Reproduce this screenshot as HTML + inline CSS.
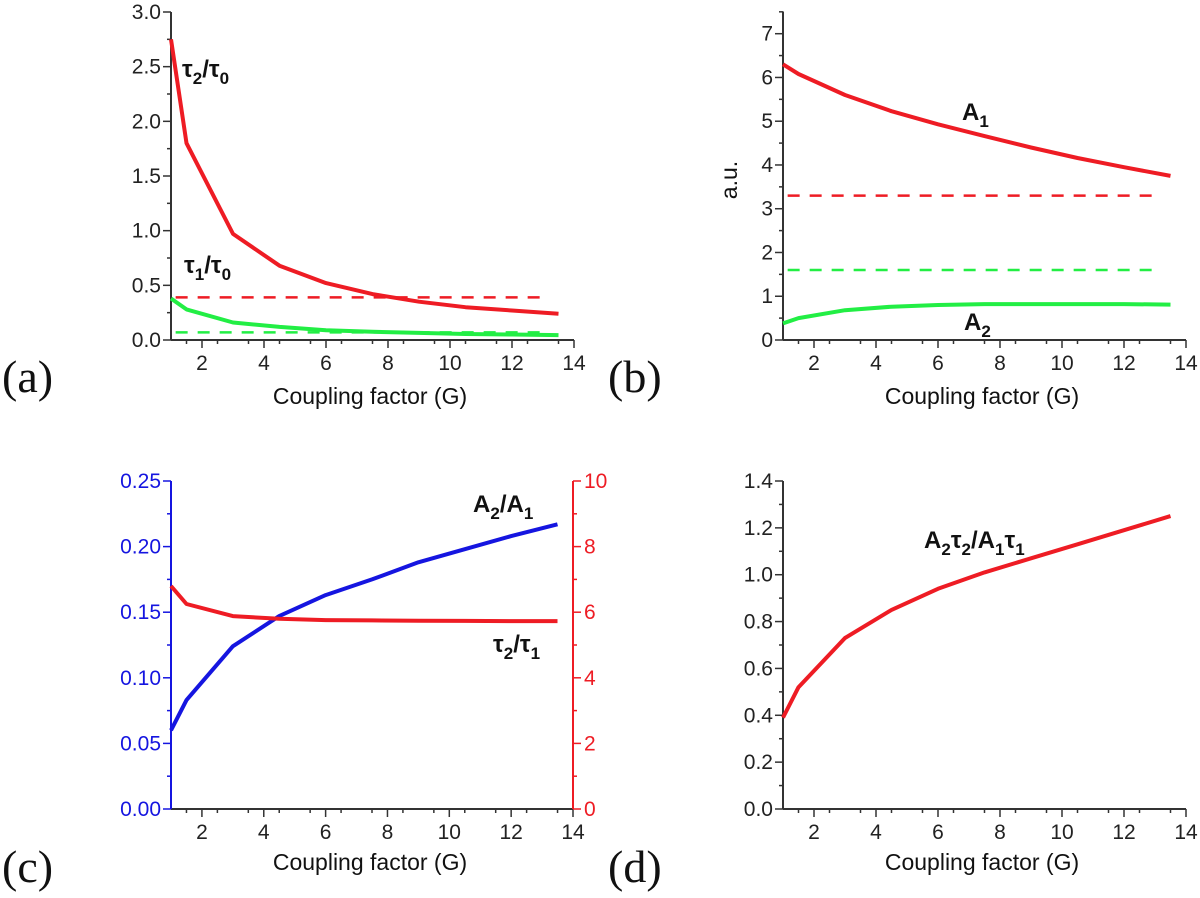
<!DOCTYPE html>
<html><head><meta charset="utf-8"><style>
body{margin:0;background:#fff}
svg{display:block;font-family:"Liberation Sans",sans-serif}
.tk{font-size:21px;fill:#222}
.lbl{font-size:23px;fill:#111}
.pan{font-family:"Liberation Serif",serif;font-size:46px;fill:#111}
.ann{font-size:24px;font-weight:bold;fill:#111}
</style></head><body>
<svg id="c" width="1200" height="898" viewBox="0 0 1200 898">
<text class="pan" x="2" y="392">(a)</text>
<text class="pan" x="608" y="392">(b)</text>
<text class="pan" x="2" y="882">(c)</text>
<text class="pan" x="608" y="882">(d)</text>
<text class="lbl" x="370" y="404" text-anchor="middle">Coupling factor (G)</text>
<text class="lbl" x="982" y="404" text-anchor="middle">Coupling factor (G)</text>
<text class="lbl" x="370" y="870" text-anchor="middle">Coupling factor (G)</text>
<text class="lbl" x="982" y="870" text-anchor="middle">Coupling factor (G)</text>
<text class="lbl" transform="translate(737,180) rotate(-90)" text-anchor="middle">a.u.</text>
<text class="ann" x="182" y="77">τ<tspan font-size="17" dy="7">2</tspan><tspan dy="-7">/τ</tspan><tspan font-size="17" dy="7">0</tspan></text>
<text class="ann" x="184" y="273">τ<tspan font-size="17" dy="7">1</tspan><tspan dy="-7">/τ</tspan><tspan font-size="17" dy="7">0</tspan></text>
<text class="ann" x="962" y="120">A<tspan font-size="17" dy="7">1</tspan></text>
<text class="ann" x="964" y="330">A<tspan font-size="17" dy="7">2</tspan></text>
<text class="ann" x="473" y="512">A<tspan font-size="17" dy="7">2</tspan><tspan dy="-7">/A</tspan><tspan font-size="17" dy="7">1</tspan></text>
<text class="ann" x="493" y="652">τ<tspan font-size="17" dy="7">2</tspan><tspan dy="-7">/τ</tspan><tspan font-size="17" dy="7">1</tspan></text>
<text class="ann" x="924" y="548">A<tspan font-size="17" dy="7">2</tspan><tspan dy="-7">τ</tspan><tspan font-size="17" dy="7">2</tspan><tspan dy="-7">/A</tspan><tspan font-size="17" dy="7">1</tspan><tspan dy="-7">τ</tspan><tspan font-size="17" dy="7">1</tspan></text>
</svg>
<script>
const G = [1,1.5,3,4.5,6,7.5,9,10.5,12,13.5];
const xTicks = [2,4,6,8,10,12,14];
const tau2tau0 = [2.75,1.8,0.97,0.68,0.52,0.42,0.35,0.3,0.27,0.24];
const tau1tau0 = [0.38,0.28,0.16,0.12,0.09,0.075,0.065,0.055,0.05,0.045];
const dashA = [0.39,0.07];
const A1 = [6.3,6.08,5.6,5.23,4.93,4.66,4.4,4.16,3.95,3.75];
const A2 = [0.38,0.5,0.68,0.76,0.8,0.82,0.82,0.82,0.82,0.81];
const dashB = [3.3,1.6];
const A2A1 = [0.06,0.083,0.124,0.147,0.163,0.175,0.188,0.198,0.208,0.217];
const tau2tau1 = [6.8,6.25,5.88,5.8,5.76,5.75,5.74,5.735,5.73,5.73];
const prod = [0.39,0.52,0.73,0.85,0.94,1.01,1.07,1.13,1.19,1.25];
const yTicksA = ["0.0","0.5","1.0","1.5","2.0","2.5","3.0"];
const yTicksB = ["0","1","2","3","4","5","6","7"];
const yTicksCL = ["0.00","0.05","0.10","0.15","0.20","0.25"];
const yTicksCR = ["0","2","4","6","8","10"];
const yTicksD = ["0.0","0.2","0.4","0.6","0.8","1.0","1.2","1.4"];

const svg = document.getElementById('c');
const NS = 'http://www.w3.org/2000/svg';
function mk(tag, at){const e=document.createElementNS(NS,tag);for(const k in at)e.setAttribute(k,at[k]);svg.appendChild(e);return e;}

// ymax = value of last tick label, placed at pixel yt; axisTop = top pixel of axis line
function panel(id, x0, x1, yb, yt, ymax, yTicks, color, axisTop){
  const sx = v => x0 + (v-1)/(14-1)*(x1-x0);
  const sy = v => yb - v/ymax*(yb-yt);
  const c = color||'#333';
  const top = axisTop===undefined ? yt : axisTop;
  let ax = mk('path',{d:`M${x0},${yb} H${x1}`,stroke:'#333','stroke-width':2,fill:'none'});
  
  
  let ay = mk('line',{x1:x0,y1:top,x2:x0,y2:yb,stroke:c,'stroke-width':2});
  
  
  for(let v=1.5; v<=14; v+=1){ mk('line',{x1:sx(v),y1:yb,x2:sx(v),y2:yb+4,stroke:'#333','stroke-width':1.5}); }
  xTicks.forEach(v=>{
    mk('line',{x1:sx(v),y1:yb,x2:sx(v),y2:yb+8,stroke:'#333','stroke-width':1.5});
    const t = mk('text',{x:sx(v),y:yb+30,'text-anchor':'middle',class:'tk'}); t.textContent=v;
    
    
  });
  const step = ymax/(yTicks.length-1);
  yTicks.forEach((lab,i)=>{
    const y = sy(i*step);
    mk('line',{x1:x0-8,y1:y,x2:x0,y2:y,stroke:c,'stroke-width':1.5});
    if(sy((i+0.5)*step) >= top-0.5) mk('line',{x1:x0-4,y1:sy((i+0.5)*step),x2:x0,y2:sy((i+0.5)*step),stroke:c,'stroke-width':1.5});
    const t = mk('text',{x:x0-10,y:y+7,'text-anchor':'end',class:'tk'}); t.textContent=lab;
    if(color) t.setAttribute('style','fill:'+color);
    
    
  });
  return {sx, sy};
}
function line(p, xs, ys, col, name, w){
  const d = xs.map((x,i)=>(i?'L':'M')+p.sx(x).toFixed(1)+','+p.sy(ys[i]).toFixed(1)).join(' ');
  const e = mk('path',{d, stroke:col,'stroke-width':w||4,fill:'none','stroke-linejoin':'round'});
  
  
}
function dash(p, v, col, name, xe){
  const e = mk('line',{x1:p.sx(1.15),x2:p.sx(xe),y1:p.sy(v),y2:p.sy(v),stroke:col,'stroke-width':2.5,'stroke-dasharray':'12,10'});
  
  
}
const RED='#ee1c24', GRN='#22ee44', BLU='#1515e0';
const pa = panel('panel-a',171,574,340,12,3.0,yTicksA);
dash(pa,dashA[0],RED,'dashed-tau2-reference',13);
dash(pa,dashA[1],GRN,'dashed-tau1-reference',13);
line(pa,G,tau2tau0,RED,'line-tau2-tau0');
line(pa,G,tau1tau0,GRN,'line-tau1-tau0');

const pb = panel('panel-b',783,1186,340,33.7,7,yTicksB,undefined,11.5);
dash(pb,dashB[0],RED,'dashed-A1-reference',12.9);
dash(pb,dashB[1],GRN,'dashed-A2-reference',12.9);
line(pb,G,A1,RED,'line-A1');
line(pb,G,A2,GRN,'line-A2');

const pc = panel('panel-c',171,573,809,481,0.25,yTicksCL,BLU);
const pcr = {sx:pc.sx, sy:v=>809 - v/10*(809-481)};
const ra = mk('line',{x1:573,y1:481,x2:573,y2:809,stroke:RED,'stroke-width':2});


yTicksCR.forEach((lab,i)=>{
  const y = pcr.sy(i*2);
  mk('line',{x1:573,y1:y,x2:581,y2:y,stroke:RED,'stroke-width':1.5});
  if(i<5) mk('line',{x1:573,y1:pcr.sy(i*2+1),x2:577,y2:pcr.sy(i*2+1),stroke:RED,'stroke-width':1.5});
  const t = mk('text',{x:584,y:y+7,class:'tk',style:'fill:'+RED}); t.textContent=lab;
  
  
});
line(pc,G,A2A1,BLU,'line-A2-A1');
line(pcr,G,tau2tau1,RED,'line-tau2-tau1');

const pd = panel('panel-d',783,1186,809,481,1.4,yTicksD);
line(pd,G,prod,RED,'line-A2tau2-A1tau1');
</script>
</body></html>
